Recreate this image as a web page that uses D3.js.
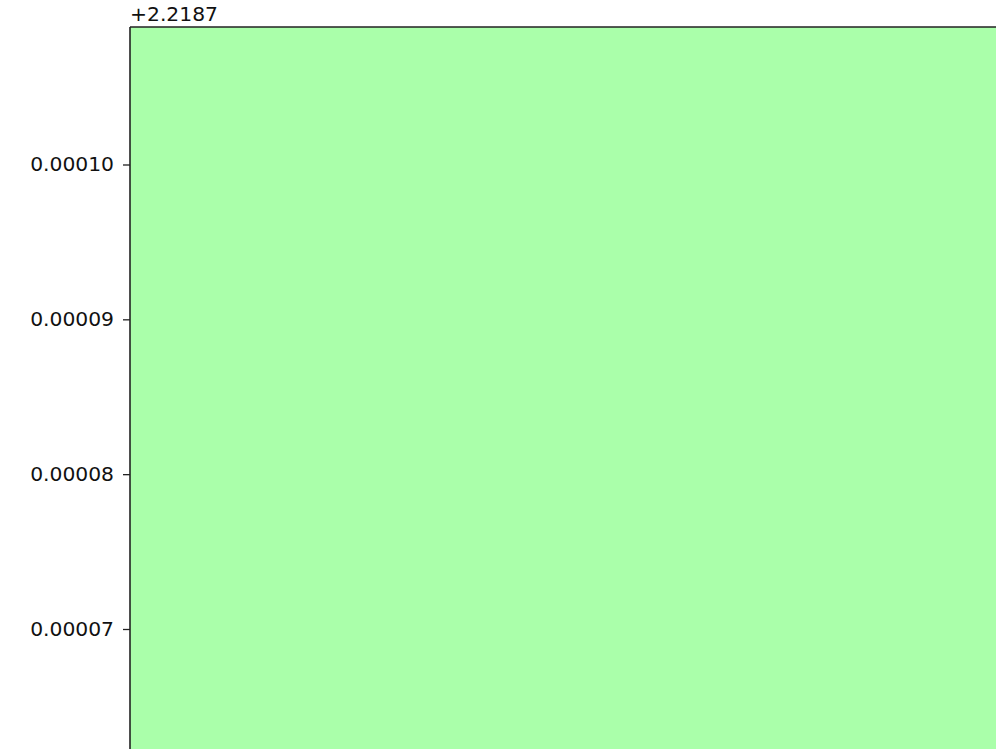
<!DOCTYPE html>
<html>
<head>
<meta charset="utf-8">
<script src="https://cdn.jsdelivr.net/npm/d3@7"></script>
<style>
html,body{margin:0;padding:0;background:#fff;overflow:hidden;}
svg{display:block;font-family:"DejaVu Sans",sans-serif;}
</style>
</head>
<body>
<svg id="chart" width="996" height="749"></svg>
<script>
// Data
const offsetValue = 2.2187;
const offsetLabel = "+2.2187";
const yTickValues = [0.00007, 0.00008, 0.00009, 0.00010];
const yTickLabels = ["0.00007", "0.00008", "0.00009", "0.00010"];
const visibleRange = [0.00006225, 0.00010888]; // relative to offset
const barLow = [0.00005];   // bar spans beyond visible window
const barHigh = [0.00012];

(function () {
const svg = d3.select("#chart");
const W = 996, H = 749;
const mLeft = 130, mTop = 27, mRight = 1100, mBottom = 749;

const y = d3.scaleLinear()
  .domain(visibleRange)
  .range([mBottom, mTop]);
const x = d3.scaleLinear().domain([0, 1]).range([mLeft, mRight]);

svg.append("clipPath").attr("id", "clip")
  .append("rect").attr("x", mLeft).attr("y", mTop)
  .attr("width", mRight - mLeft).attr("height", mBottom - mTop);

svg.append("g").attr("clip-path", "url(#clip)")
  .selectAll("rect").data(barLow).join("rect")
  .attr("x", x(0)).attr("width", x(1) - x(0))
  .attr("y", (d, i) => y(barHigh[i]))
  .attr("height", (d, i) => y(d) - y(barHigh[i]))
  .attr("fill", "#aaffaa");

svg.append("line").attr("x1", mLeft).attr("x2", W + 10).attr("y1", mTop).attr("y2", mTop)
  .attr("stroke", "#222").attr("stroke-width", 1.6);

const axis = d3.axisLeft(y).tickValues(yTickValues)
  .tickFormat((d, i) => yTickLabels[i]).tickSize(7).tickPadding(9);
const g = svg.append("g").attr("transform", `translate(${mLeft},0)`).call(axis);
g.select(".domain").remove();
g.selectAll(".tick line").attr("stroke", "#222").attr("stroke-width", 1.3);
g.selectAll(".tick text").attr("font-size", "20.3px").attr("fill", "#111")
  .attr("font-family", "'DejaVu Sans', sans-serif");
svg.append("line").attr("x1", mLeft).attr("x2", mLeft).attr("y1", mTop).attr("y2", H + 10)
  .attr("stroke", "#222").attr("stroke-width", 1.6);

svg.append("text").attr("x", mLeft).attr("y", 21)
  .attr("font-size", "20.3px").attr("fill", "#111").text(offsetLabel);
})();
</script>
</body>
</html>
